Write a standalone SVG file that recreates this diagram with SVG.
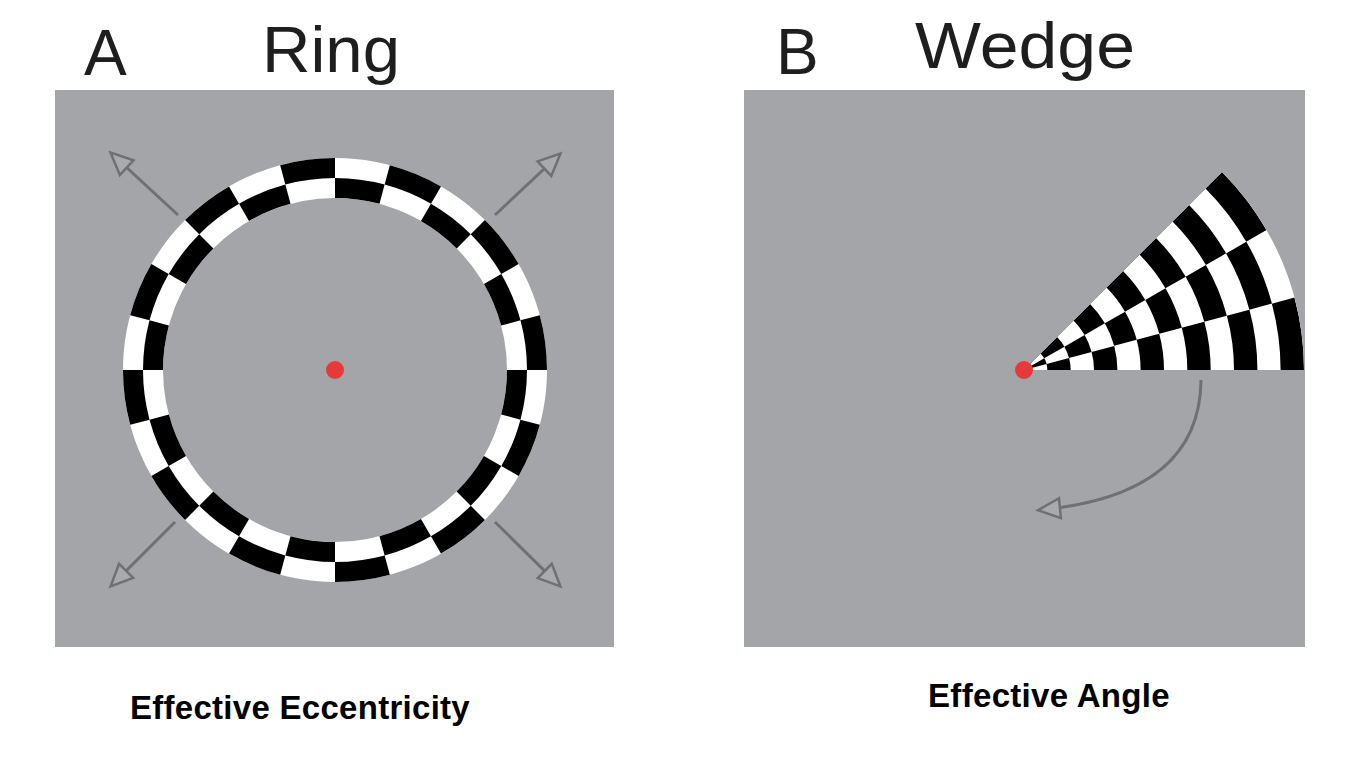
<svg xmlns="http://www.w3.org/2000/svg" width="1347" height="759" viewBox="0 0 1347 759">
<style>
.t{font-family:"Liberation Sans",Arial,sans-serif;fill:#1e1e1e;font-size:64px}
.b{font-family:"Liberation Sans",Arial,sans-serif;font-weight:bold;font-size:33px;fill:#000;letter-spacing:0.3px}
.panel{fill:#a4a5a9}
.arr{stroke:#6f7073;stroke-width:3;fill:none;marker-end:url(#ah)}
</style>
<defs>
<marker id="ah" viewBox="0 0 12 12" refX="10" refY="6" markerWidth="12" markerHeight="12" orient="auto" markerUnits="userSpaceOnUse" overflow="visible">
<path d="M-10,-4 L12,6 L-10,16 Z" fill="#a9aaad" stroke="#6f7073" stroke-width="2.5"/>
</marker>
<clipPath id="wc"><path d="M1024,370 L1304,370 A280,280 0 0,0 1221.99,172.01 Z"/></clipPath>
</defs>
<rect width="1347" height="759" fill="#fff"/>
<g id="panelA">
<rect class="panel" x="55" y="90" width="559" height="557"/>
<circle cx="335" cy="370" r="192" fill="none" stroke="#fff" stroke-width="40"/>
<circle cx="335" cy="370" r="202" fill="none" stroke="#000" stroke-width="20" pathLength="24" stroke-dasharray="1 1" stroke-dashoffset="1"/>
<circle cx="335" cy="370" r="182" fill="none" stroke="#000" stroke-width="20" pathLength="24" stroke-dasharray="1 1"/>
<circle cx="335" cy="370" r="9" fill="#e8393a"/>
</g>
<g id="panelB">
<rect class="panel" x="744" y="90" width="561" height="557"/>
<path d="M1024,370 L1304,370 A280,280 0 0,0 1221.99,172.01 Z" fill="#fff"/>
<g clip-path="url(#wc)" fill="none" stroke="#000" stroke-width="23.4">
<circle cx="1024" cy="370" r="11.7" pathLength="24" stroke-dasharray="1 1"/>
<circle cx="1024" cy="370" r="35" pathLength="24" stroke-dasharray="1 1" stroke-dashoffset="1"/>
<circle cx="1024" cy="370" r="58.3" pathLength="24" stroke-dasharray="1 1"/>
<circle cx="1024" cy="370" r="81.7" pathLength="24" stroke-dasharray="1 1" stroke-dashoffset="1"/>
<circle cx="1024" cy="370" r="105" pathLength="24" stroke-dasharray="1 1"/>
<circle cx="1024" cy="370" r="128.3" pathLength="24" stroke-dasharray="1 1" stroke-dashoffset="1"/>
<circle cx="1024" cy="370" r="151.7" pathLength="24" stroke-dasharray="1 1"/>
<circle cx="1024" cy="370" r="175" pathLength="24" stroke-dasharray="1 1" stroke-dashoffset="1"/>
<circle cx="1024" cy="370" r="198.3" pathLength="24" stroke-dasharray="1 1"/>
<circle cx="1024" cy="370" r="221.7" pathLength="24" stroke-dasharray="1 1" stroke-dashoffset="1"/>
<circle cx="1024" cy="370" r="245" pathLength="24" stroke-dasharray="1 1"/>
<circle cx="1024" cy="370" r="268.3" pathLength="24" stroke-dasharray="1 1" stroke-dashoffset="1"/>
</g>
<circle cx="1024" cy="370" r="9" fill="#e8393a"/>
</g>
<g id="connectors">
<path class="arr" d="M178,215 L112,154"/>
<path class="arr" d="M495,215 L559,155"/>
<path class="arr" d="M175,522 L112,585"/>
<path class="arr" d="M495,522 L559,585"/>
<path class="arr" d="M1201,380 Q1200,495 1040,510"/>
</g>
<g id="labels">
<text class="t" x="84" y="75">A</text>
<text class="t" x="262" y="72" textLength="138" lengthAdjust="spacingAndGlyphs">Ring</text>
<text class="t" x="776" y="74">B</text>
<text class="t" x="915" y="68" textLength="220" lengthAdjust="spacingAndGlyphs">Wedge</text>
<text class="b" x="130" y="719" textLength="340" lengthAdjust="spacingAndGlyphs">Effective Eccentricity</text>
<text class="b" x="928" y="707" textLength="242" lengthAdjust="spacingAndGlyphs">Effective Angle</text>
</g>
</svg>
